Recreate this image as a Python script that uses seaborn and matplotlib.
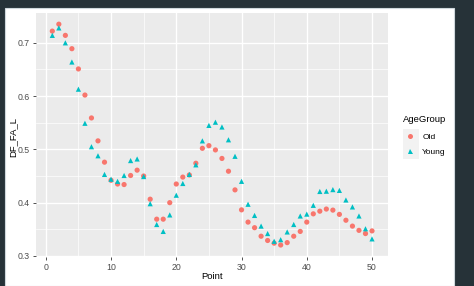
import matplotlib
matplotlib.use("Agg")
import matplotlib.pyplot as plt
import seaborn as sns
import pandas as pd
import numpy as np
from matplotlib.patches import Rectangle

points = list(range(1, 51))
old = [0.722, 0.735, 0.714, 0.689, 0.651, 0.602, 0.559, 0.516, 0.476, 0.442,
       0.435, 0.434, 0.451, 0.461, 0.450, 0.4065, 0.369, 0.369, 0.400, 0.435,
       0.448, 0.452, 0.474, 0.502, 0.507, 0.499, 0.483, 0.459, 0.424, 0.3865,
       0.3635, 0.353, 0.337, 0.329, 0.324, 0.3205, 0.325, 0.337, 0.346, 0.3635,
       0.379, 0.384, 0.388, 0.386, 0.378, 0.367, 0.356, 0.348, 0.342, 0.347]
young = [0.714, 0.728, 0.700, 0.664, 0.613, 0.549, 0.505, 0.488, 0.453, 0.444,
         0.440, 0.451, 0.479, 0.482, 0.449, 0.398, 0.359, 0.346, 0.377, 0.414,
         0.436, 0.453, 0.471, 0.516, 0.545, 0.551, 0.542, 0.518, 0.487, 0.440,
         0.397, 0.376, 0.356, 0.342, 0.3275, 0.3305, 0.345, 0.359, 0.375, 0.3785,
         0.395, 0.421, 0.4215, 0.4245, 0.423, 0.405, 0.392, 0.375, 0.351, 0.332]
groups = ["Old", "Young"]

df = pd.DataFrame({
    "Point": points * 2,
    "DF_FA_L": old + young,
    "AgeGroup": [groups[0]] * len(points) + [groups[1]] * len(points),
})

plt.rcParams["font.family"] = ["Liberation Sans", "DejaVu Sans"]

W, H = 474, 286
fig = plt.figure(figsize=(W / 100, H / 100), dpi=100)
fig.patch.set_facecolor("#263238")
fig.patches.append(Rectangle((5 / W, 0), 449 / W, 278 / H, transform=fig.transFigure,
                             facecolor="white", edgecolor="#cfd8dc", linewidth=0.8,
                             zorder=-10))

ax = fig.add_axes([36 / W, 1 - 257 / H, 352 / W, 244 / H])
ax.set_facecolor("#EBEBEB")
palette = {"Old": "#F8766D", "Young": "#00BFC4"}
markers = {"Old": "o", "Young": "^"}
sns.scatterplot(data=df, x="Point", y="DF_FA_L", hue="AgeGroup", style="AgeGroup",
                palette=palette, markers=markers, s=14, linewidth=0, ax=ax, legend=False,
                zorder=3)

ax.set_xlim(-1.5, 52.45)
ax.set_ylim(0.298, 0.756)
ax.set_xticks([0, 10, 20, 30, 40, 50])
ax.set_yticks([0.3, 0.4, 0.5, 0.6, 0.7])
ax.set_xticks([5, 15, 25, 35, 45], minor=True)
ax.set_yticks([0.35, 0.45, 0.55, 0.65], minor=True)
ax.grid(which="major", color="white", linewidth=1.0)
ax.grid(which="minor", color="white", linewidth=0.5)
ax.set_axisbelow(True)
for sp in ax.spines.values():
    sp.set_visible(False)
ax.tick_params(which="major", length=2.5, color="#333333", labelcolor="#4D4D4D",
               labelsize=6.3, pad=2, width=0.6)
ax.tick_params(which="minor", length=0)
ax.set_xlabel("Point", fontsize=6.8, color="black")
ax.set_ylabel("DF_FA_L", fontsize=6.8, color="black")
ax.xaxis.set_label_coords(0.5, (257 - 272) / 244)
ax.yaxis.set_label_coords((17 - 36) / 352, 0.49)

# grey legend key backgrounds (ggplot style)
for i in range(2):
    fig.patches.append(Rectangle((403 / W, 1 - (143.5 + 15.3 * i) / H), 16 / W, 15 / H,
                                 transform=fig.transFigure, facecolor="#F2F2F2",
                                 edgecolor="none", zorder=-5))

fig.text(403 / W, 1 - 119 / H, "AgeGroup", fontsize=6.8, ha="left", va="center")

handles = [plt.Line2D([], [], linestyle="", marker=markers[g], color=palette[g],
                      markersize=3.6, markeredgewidth=0) for g in groups]
leg = fig.legend(handles, groups, loc="upper left",
                 bbox_to_anchor=(406 / W, 1 - 133 / H), frameon=False,
                 fontsize=6, handlelength=1.0, handletextpad=0.95,
                 labelspacing=0.85, borderaxespad=0, borderpad=0)

fig.savefig("out.png", dpi=100, facecolor=fig.get_facecolor())
